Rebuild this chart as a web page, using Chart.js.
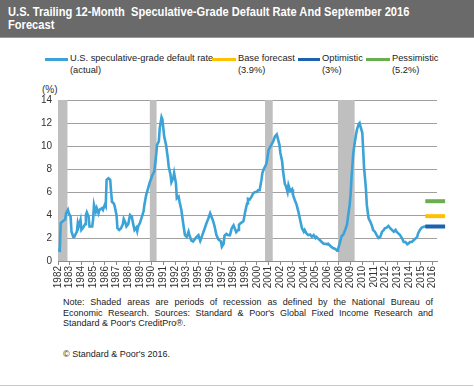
<!DOCTYPE html>
<html>
<head>
<meta charset="utf-8">
<script src="https://cdn.jsdelivr.net/npm/chart.js@4"></script>
<style>
  html, body { margin:0; padding:0; background:#fff; }
  body { width:474px; height:387px; position:relative; overflow:hidden; font-family:"Liberation Sans", Arial, sans-serif; color:#222; }
  #titlebar { position:absolute; left:0; top:0; width:474px; height:37px; background:#6a6a6a; border-bottom:1px solid #9a9a9a; }
  #title { position:absolute; left:8px; top:6px; color:#fff; font-weight:bold; font-size:12.5px; line-height:13px; white-space:pre; transform:scaleX(0.89); transform-origin:left top; }
  .lg-line { position:absolute; height:3px; top:58px; }
  .lg-text { position:absolute; top:53px; font-size:9.3px; line-height:11.5px; white-space:pre; color:#222; }
  #unit { position:absolute; left:42px; top:84px; font-size:10px; color:#333; }
  #chartwrap { position:absolute; left:0; top:80px; width:474px; height:215px; }
  #notes { position:absolute; left:63px; top:297px; width:370px; font-size:9px; line-height:10.5px; color:#222; }
  #notes .j { display:block; text-align:justify; text-align-last:justify; white-space:normal; }
  #copy { position:absolute; left:63px; top:349px; font-size:9px; line-height:10.5px; color:#222; }
  #frame { position:absolute; left:0; top:385px; width:473px; height:1px; background:#c8c8c8; }
</style>
</head>
<body>
<div id="titlebar"><div id="title">U.S. Trailing 12-Month  Speculative-Grade Default Rate And September 2016
Forecast</div></div>

<div class="lg-line" style="left:45px;width:23px;background:#3ba3d8"></div>
<div class="lg-text" style="left:70px">U.S. speculative-grade default rate
(actual)</div>
<div class="lg-line" style="left:212px;width:24px;background:#ffc000"></div>
<div class="lg-text" style="left:238px">Base forecast
(3.9%)</div>
<div class="lg-line" style="left:298px;width:22px;background:#1b63ae"></div>
<div class="lg-text" style="left:322px">Optimistic
(3%)</div>
<div class="lg-line" style="left:366px;width:24px;background:#6aae4f"></div>
<div class="lg-text" style="left:392px">Pessimistic
(5.2%)</div>

<div id="unit">(%)</div>
<div id="chartwrap"><canvas id="c" width="474" height="215"></canvas></div>

<div id="notes"><span class="j">Note: Shaded areas are periods of recession as defined by the National Bureau of</span><span class="j">Economic Research. Sources: Standard &amp; Poor's Global Fixed Income Research and</span><span>Standard &amp; Poor's CreditPro®.</span></div>
<div id="copy">© Standard &amp; Poor's 2016.</div>
<div id="frame"></div>

<script>
// ---- DATA (months counted from Jan 1982 = 0) ----
const rateMonths = [
  0,2,3,6,8,9,11,12,14,15,17,18,21,22,23,25,26,28,30,31,32,34,35,38,39,40,42,43,45,46,
  49,50,52,53,54,56,58,59,60,62,63,65,66,68,70,72,73,75,76,78,80,82,83,85,87,88,89,91,95,96,
  98,100,102,105,107,109,110,112,113,115,116,117,118,120,122,123,125,126,128,129,131,132,134,135,137,139,141,143,145,146,
  148,150,152,154,156,158,159,161,163,165,167,169,172,174,176,178,181,182,184,185,187,189,191,193,195,198,200,201,203,206,
  208,210,211,213,215,217,219,221,222,224,226,227,229,231,232,234,236,237,239,241,243,244,246,247,249,250,252,253,255,256,
  258,260,261,263,265,267,269,271,273,274,276,278,280,282,284,286,287,289,291,293,295,297,299,300,302,304,306,308,310,311,
  313,315,317,319,321,322,324,325,326,328,329,331,332,334,335,336,338,339,340,342,343,345,347,349,350,352,354,356,358,360,
  362,363,365,367,369,371,373,375,376,378,380,382,384,386,388,389,391,393,395,397,399,400,402,404,407,409
];
const defaultRate = [
  0.95,0.9,3.3,3.5,3.6,4.15,4.45,4.15,3.85,2.55,2.1,2.1,2.55,3.3,3.0,3.57,2.7,2.9,3.2,4.0,4.24,3.85,3.0,3.0,3.6,4.9,4.3,4.6,4.15,4.45,
  4.6,4.45,4.9,4.75,7.05,7.2,7.05,6.0,5.15,5.0,4.75,4.0,2.85,2.7,2.85,3.2,3.65,3.3,3.0,3.2,4.0,3.85,3.4,2.7,2.9,2.6,3.0,3.3,4.3,4.9,
  5.75,6.3,6.85,7.5,7.8,9.2,10.1,10.4,11.55,12.5,12.3,11.55,10.8,10.1,8.95,8.2,7.5,6.85,7.2,7.65,6.75,5.45,5.6,5.15,4.45,3.3,2.25,2.1,2.55,2.25,
  1.8,1.7,1.9,2.1,2.25,1.75,1.95,2.4,2.85,3.3,3.7,4.15,3.55,3.0,2.25,1.9,1.7,1.25,1.5,2.2,2.35,2.25,2.25,2.85,3.1,2.5,2.7,3.15,3.3,3.45,
  4.3,5.0,5.4,5.35,5.6,5.9,6.0,6.0,6.15,6.15,7.05,7.65,8.07,8.36,8.65,9.67,9.96,10.1,10.4,10.83,11.0,10.7,10.1,9.4,8.65,7.8,6.68,6.55,6.0,6.6,
  6.1,6.25,5.75,5.3,4.9,4.3,3.57,2.85,2.55,2.7,2.4,2.25,2.3,2.1,2.25,2.0,2.1,1.95,1.8,1.65,1.5,1.5,1.45,1.5,1.35,1.2,1.1,1.05,0.9,1.0,
  1.55,2.15,2.3,2.7,3.15,3.75,4.9,5.75,7.2,9.38,9.96,10.98,11.4,11.9,12.0,11.7,11.15,9.67,8.1,6.33,4.9,3.7,3.4,3.0,2.7,2.55,2.25,2.0,2.1,2.55,
  2.7,2.85,2.9,3.05,2.85,2.7,2.55,2.7,2.55,2.4,2.25,2.0,1.65,1.65,1.45,1.5,1.65,1.65,1.8,1.95,2.1,2.4,2.7,2.9,3.0,3.0
];
const forecastMonths = [408, 430];      // Sep 2016 forecast marker span
const baseForecast = 3.9;
const optimisticForecast = 3.0;
const pessimisticForecast = 5.2;
const recessionStart = [0, 102, 230, 311];
const recessionEnd = [10.5, 109.5, 238.5, 329.5];
const tickMonths = [0,13,26,39,52,65,78,91,104,117,130,143,156,169,182,195,208,221,234,247,260,273,286,299,312,325,338,351,364,377,390,403,416];
const tickLabels = ["1982","1983","1984","1985","1986","1987","1988","1989","1990","1991","1992","1993","1995","1996","1997","1998","1999","2000","2001","2002","2003","2004","2005","2006","2008","2009","2010","2011","2012","2013","2014","2015","2016"];
const yMax = 14;
const xMax = 421;

const FONT = "'Liberation Sans', Arial, sans-serif";

const recessionPlugin = {
  id: 'recessions',
  beforeDatasetsDraw(chart) {
    const {ctx, chartArea, scales} = chart;
    ctx.save();
    ctx.fillStyle = '#bfbfbf';
    for (let i = 0; i < recessionStart.length; i++) {
      const x0 = scales.x.getPixelForValue(recessionStart[i]);
      const x1 = scales.x.getPixelForValue(recessionEnd[i]);
      ctx.fillRect(x0, chartArea.top, x1 - x0, chartArea.bottom - chartArea.top);
    }
    ctx.restore();
  }
};

function seg(v) { return forecastMonths.map(m => ({x: m, y: v})); }

new Chart(document.getElementById('c'), {
  type: 'line',
  data: {
    datasets: [
      { label: 'U.S. speculative-grade default rate (actual)', data: rateMonths.map((m, i) => ({x: m, y: defaultRate[i]})),
        borderColor: '#3ba3d8', borderWidth: 2.6, pointRadius: 0, tension: 0, order: 1 },
      { label: 'Pessimistic', data: seg(pessimisticForecast), borderColor: '#6aae4f', borderWidth: 4, pointRadius: 0, clip: false, borderCapStyle: 'butt' },
      { label: 'Base forecast', data: seg(baseForecast), borderColor: '#ffc000', borderWidth: 4, pointRadius: 0, clip: false, borderCapStyle: 'butt' },
      { label: 'Optimistic', data: seg(optimisticForecast), borderColor: '#1b63ae', borderWidth: 4, pointRadius: 0, clip: false, borderCapStyle: 'butt' }
    ]
  },
  options: {
    responsive: false,
    animation: false,
    events: [],
    layout: { padding: { left: 0, right: 37, top: 20, bottom: 0 } },
    plugins: { legend: { display: false }, tooltip: { enabled: false } },
    scales: {
      x: {
        type: 'linear', min: 0, max: xMax,
        afterBuildTicks: s => { s.ticks = tickMonths.map(v => ({value: v})); },
        afterFit: s => { s.height = 34; },
        grid: { drawOnChartArea: false, drawTicks: true, tickLength: 4, color: '#8c8c8c' },
        border: { display: true, color: '#8c8c8c' },
        ticks: {
          autoSkip: false, minRotation: 90, maxRotation: 90, padding: 1,
          color: '#333', font: { family: FONT, size: 10 },
          callback: (v, i) => tickLabels[i]
        }
      },
      y: {
        min: 0, max: yMax,
        afterFit: s => { s.width = 58; },
        grid: { color: '#a0a0a0', drawTicks: false },
        border: { display: false },
        ticks: { stepSize: 1, padding: 6, color: '#333', font: { family: FONT, size: 10 } }
      }
    }
  },
  plugins: [recessionPlugin]
});
</script>
</body>
</html>
